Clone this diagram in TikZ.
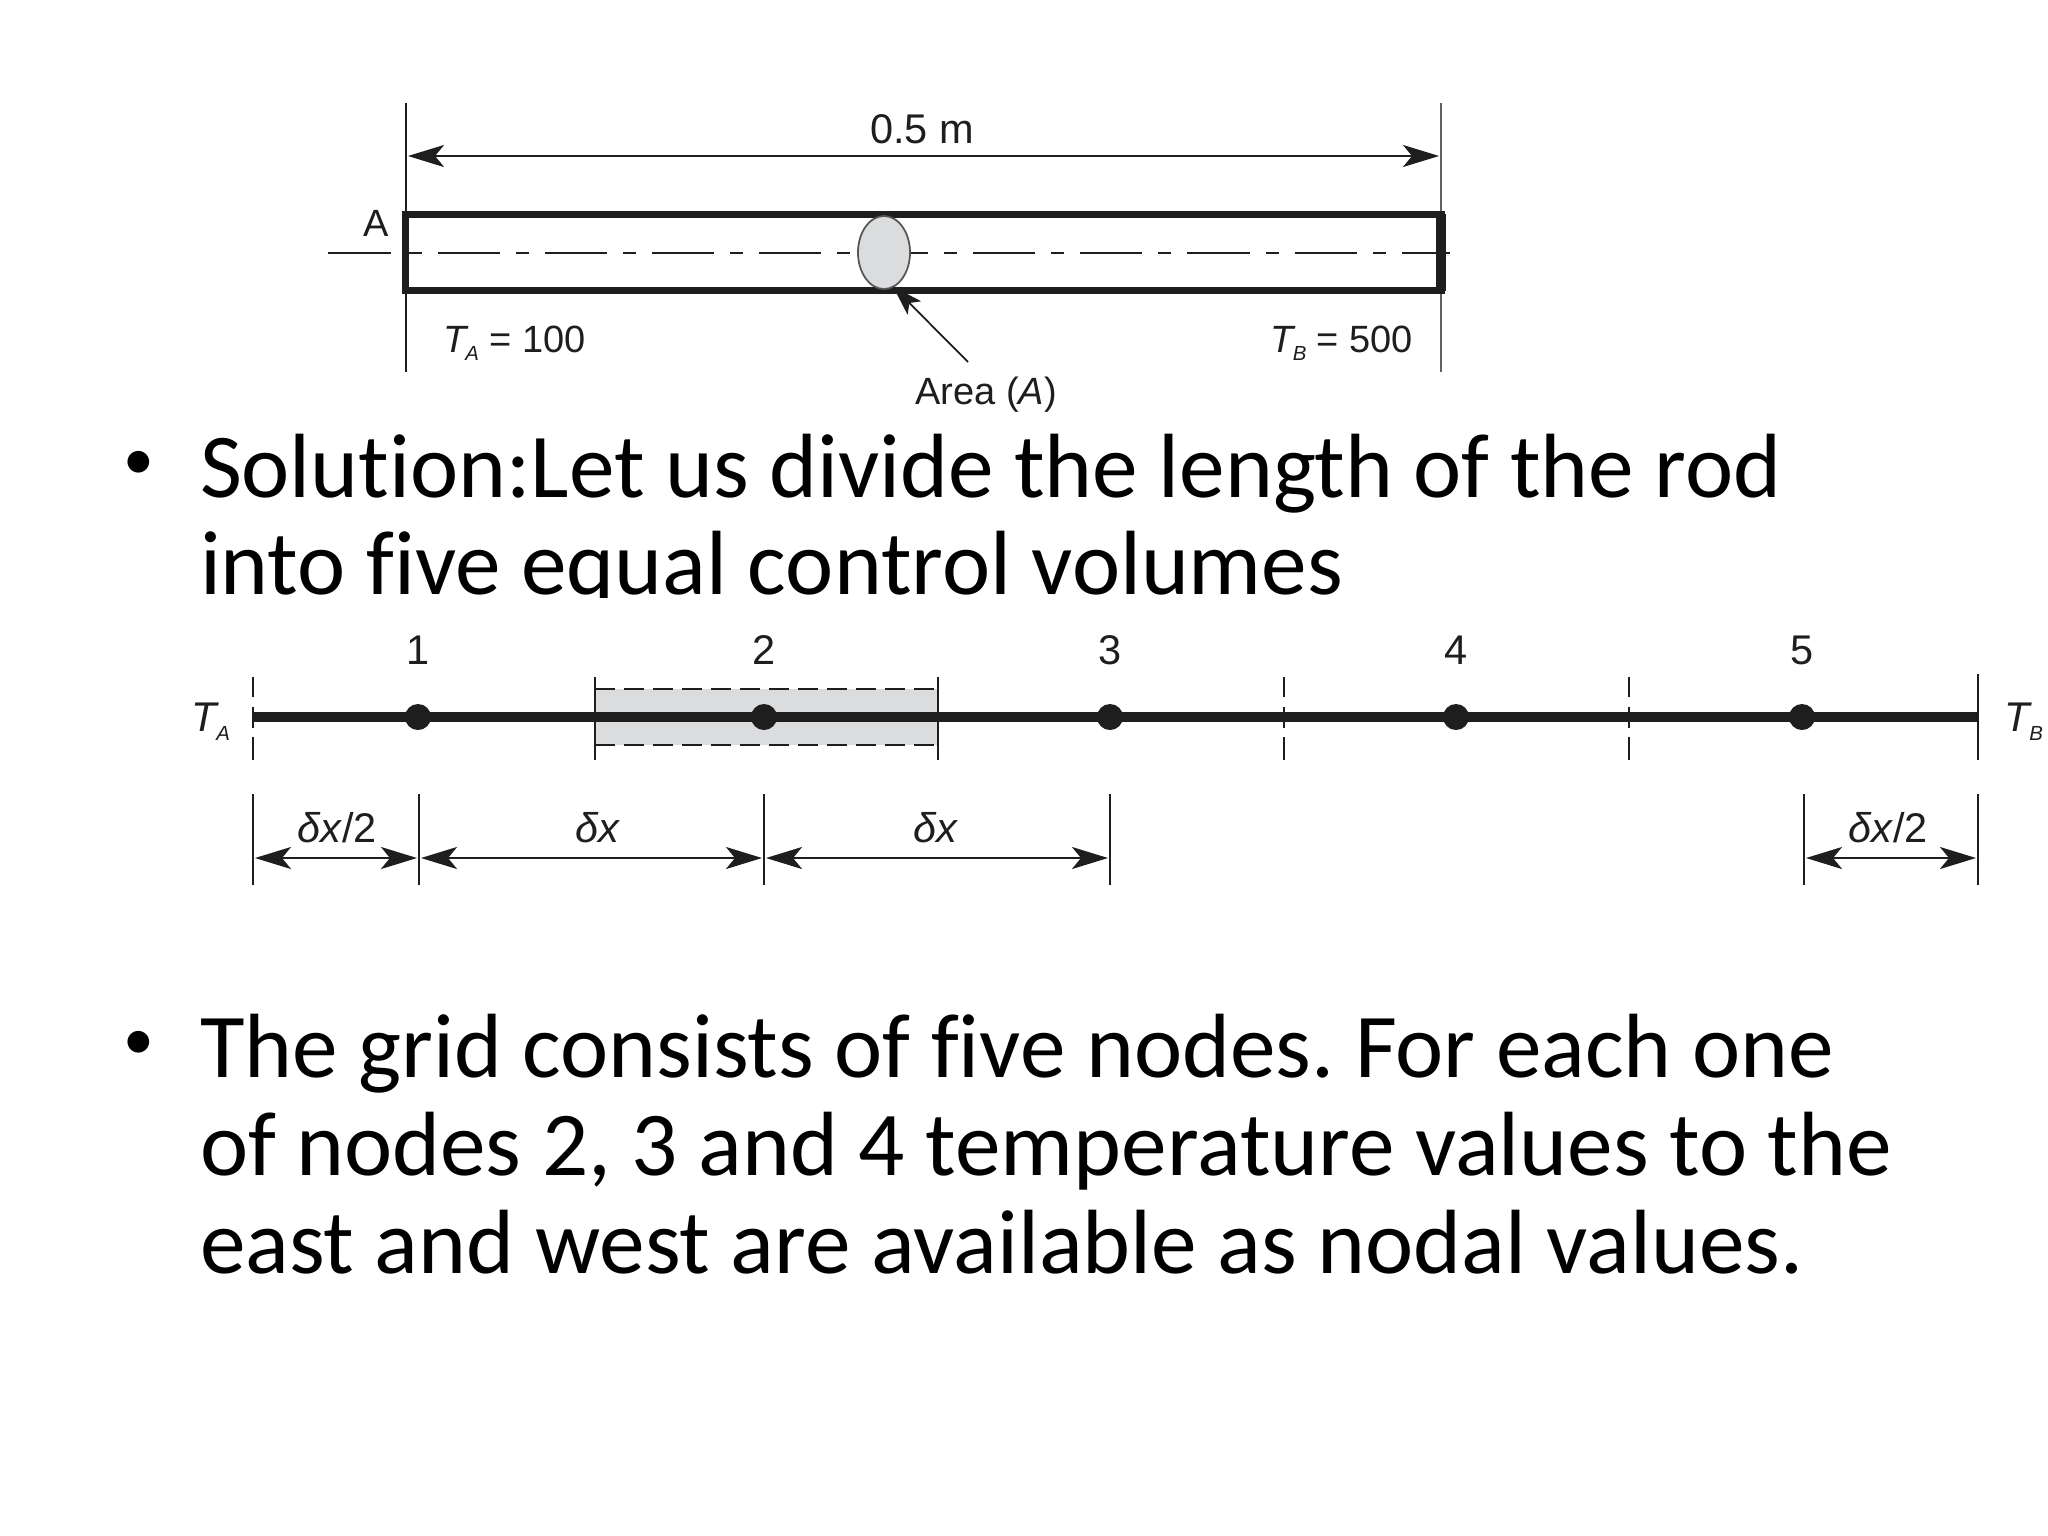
\documentclass[tikz,border=0pt]{standalone}
\usepackage{fontspec}
\setmainfont[Ligatures=NoCommon]{Carlito}
\newfontfamily\figfont{Liberation Sans}
\newcommand*{\bodyfont}{\frenchspacing\fontsize{25.95}{28}\selectfont}
\newcommand*{\dotfont}{\fontsize{17.5}{18}\selectfont}
\newcommand*{\labelfont}{\figfont\fontsize{10.8}{12}\selectfont}
\newcommand*{\numfont}{\figfont\fontsize{11.8}{14}\selectfont}
\newcommand*{\subscr}[2]{\textit{#1}\kern-0.08em\raisebox{-0.4ex}{\fontsize{5.8}{7}\selectfont\textit{#2}}}
\definecolor{cvgray}{RGB}{219,220,222}
\definecolor{ink}{RGB}{30,30,30}
\usetikzlibrary{arrows.meta}
\usetikzlibrary{shapes.geometric}
\tikzstyle{base}=[x=0.01cm, y=-0.01cm, inner sep=0pt, outer sep=0pt]
\tikzstyle{bodyline}=[anchor=base west, black, font=\bodyfont]
\tikzstyle{bulletmark}=[anchor=base west, black, font=\dotfont]
\tikzstyle{figlabel}=[ink, font=\labelfont]
\tikzstyle{numlabel}=[ink, font=\numfont]
\tikzstyle{thinline}=[ink, line width=0.5pt]
\tikzstyle{dimarrow}=[ink, line width=0.65pt, shorten <=0.02cm, shorten >=0.02cm, {Stealth[length=0.36cm, width=0.22cm, inset=0.09cm]}-{Stealth[length=0.36cm, width=0.22cm, inset=0.09cm]}]
\tikzstyle{griddot}=[circle, fill=ink, minimum size=0.26cm]
\tikzstyle{gridface}=[thinline, dash pattern=on 0.2cm off 0.1cm on 0.21cm off 0.09cm on 0.23cm off 0.01cm]
\tikzstyle{cvedge}=[thinline, dash pattern=on 0.2cm off 0.09cm]

\begin{document}
\begin{tikzpicture}[base]
    \path [use as bounding box, fill=white] (0,0) rectangle (2048,1536);

    \node [bulletmark] (bulletone) at (123,479) {•};
    \node [bodyline] (lineone) at (200,497) {Solution:Let us divide the length of the rod};
    \node [bodyline] (linetwo) at (200,594) {into five equal control volumes};
    \fill [white] (130,598) rectangle (1500,625);
    \node [bulletmark] (bullettwo) at (123,1059) {•};
    \node [bodyline] (linethree) at (200,1077) {The grid consists of five nodes. For each one};
    \node [bodyline] (linefour) at (200,1175) {of nodes 2, 3 and 4 temperature values to the};
    \node [bodyline] (linefive) at (200,1273) {east and west are available as nodal values.};

    \coordinate (leftup) at (406,103);
    \coordinate (leftdown) at (406,372);
    \coordinate (rightup) at (1441,103);
    \coordinate (rightdown) at (1441,372);
    \coordinate (lenleft) at (406,156);
    \coordinate (lenright) at (1441,156);
    \coordinate (axisout) at (328,253);
    \coordinate (axisgap) at (391,253);
    \coordinate (axisin) at (409,253);
    \coordinate (axisend) at (1450,253);
    \coordinate (areatail) at (968,362);

    \draw [thinline] (leftup) -- (leftdown);
    \draw [thinline, ink!70] (rightup) -- (rightdown);
    \draw [dimarrow] (lenleft) -- (lenright);
    \node [draw=ink, line width=1.9pt, minimum width=10.35cm, minimum height=0.76cm] (rod) at (923.5,252.5) {};
    \draw [ink, line width=2.8pt] (rod.north east) -- (rod.south east);
    \draw [thinline] (axisout) -- (axisgap);
    \draw [thinline, dash pattern=on 0.13cm off 0.16cm on 0.62cm off 0.16cm] (axisin) -- (axisend);
    \node [ellipse, draw=ink!75, fill=cvgray, line width=0.5pt, minimum width=0.52cm, minimum height=0.73cm] (area) at (884,252.5) {};
    \draw [thinline, -{Stealth[length=0.3cm, width=0.19cm, inset=0.07cm]}] (areatail) -- (area.-75);

    \node [figlabel, font=\numfont] (lenlabel) at (922,129) {0.5 m};
    \node [figlabel] (sectionlabel) at (376,223) {A};
    \node [figlabel, anchor=base west] (talabel) at (443,352) {\subscr{T}{A} = 100};
    \node [figlabel, anchor=base east] (tblabel) at (1413,352) {\subscr{T}{B} = 500};
    \node [figlabel] (arealabel) at (986,395) {Area (\textit{A})};

    \fill [cvgray] (595,689) rectangle (938,745);
    \coordinate (cvtopleft) at (595,689);
    \coordinate (cvtopright) at (938,689);
    \coordinate (cvbotleft) at (595,745);
    \coordinate (cvbotright) at (938,745);
    \draw [cvedge] (cvtopleft) -- (cvtopright);
    \draw [cvedge] (cvbotleft) -- (cvbotright);

    \foreach \x/\n in {253/a, 1284/d, 1629/e} {
        \coordinate (face\n up) at (\x,677);
        \coordinate (face\n down) at (\x,760);
        \draw [gridface] (face\n up) -- (face\n down);
    }
    \foreach \x/\n in {595/b, 938/c} {
        \coordinate (face\n up) at (\x,677);
        \coordinate (face\n down) at (\x,760);
        \draw [thinline] (face\n up) -- (face\n down);
    }
    \coordinate (rodstart) at (253,717);
    \coordinate (rodend) at (1978,717);
    \coordinate (facefup) at (1978,674);
    \coordinate (facefdown) at (1978,760);
    \draw [thinline] (facefup) -- (facefdown);
    \draw [ink, line width=2.6pt] (rodstart) -- (rodend);

    \foreach \x/\n in {418/1, 764/2, 1110/3, 1456/4, 1802/5} {
        \node [griddot] (dot\n) at (\x,717) {};
        \node [numlabel] (num\n) at (\x,650) {\n};
    }
    \node [numlabel] (talabeltwo) at (211,722) {\subscr{T}{A}};
    \node [numlabel] (tblabeltwo) at (2024,722) {\subscr{T}{B}};

    \foreach \x/\n in {253/1, 419/2, 764/3, 1110/4, 1804/5, 1978/6} {
        \coordinate (dimup\n) at (\x,794);
        \coordinate (dimdown\n) at (\x,885);
        \coordinate (dimmid\n) at (\x,858);
        \draw [thinline] (dimup\n) -- (dimdown\n);
    }
    \draw [dimarrow] (dimmid1) -- (dimmid2);
    \draw [dimarrow] (dimmid2) -- (dimmid3);
    \draw [dimarrow] (dimmid3) -- (dimmid4);
    \draw [dimarrow] (dimmid5) -- (dimmid6);
    \node [numlabel] (halfleft) at (337,828) {\textit{δx}/2};
    \node [numlabel] (fullleft) at (598,828) {\textit{δx}};
    \node [numlabel] (fullright) at (936,828) {\textit{δx}};
    \node [numlabel] (halfright) at (1888,828) {\textit{δx}/2};
\end{tikzpicture}
\end{document}
